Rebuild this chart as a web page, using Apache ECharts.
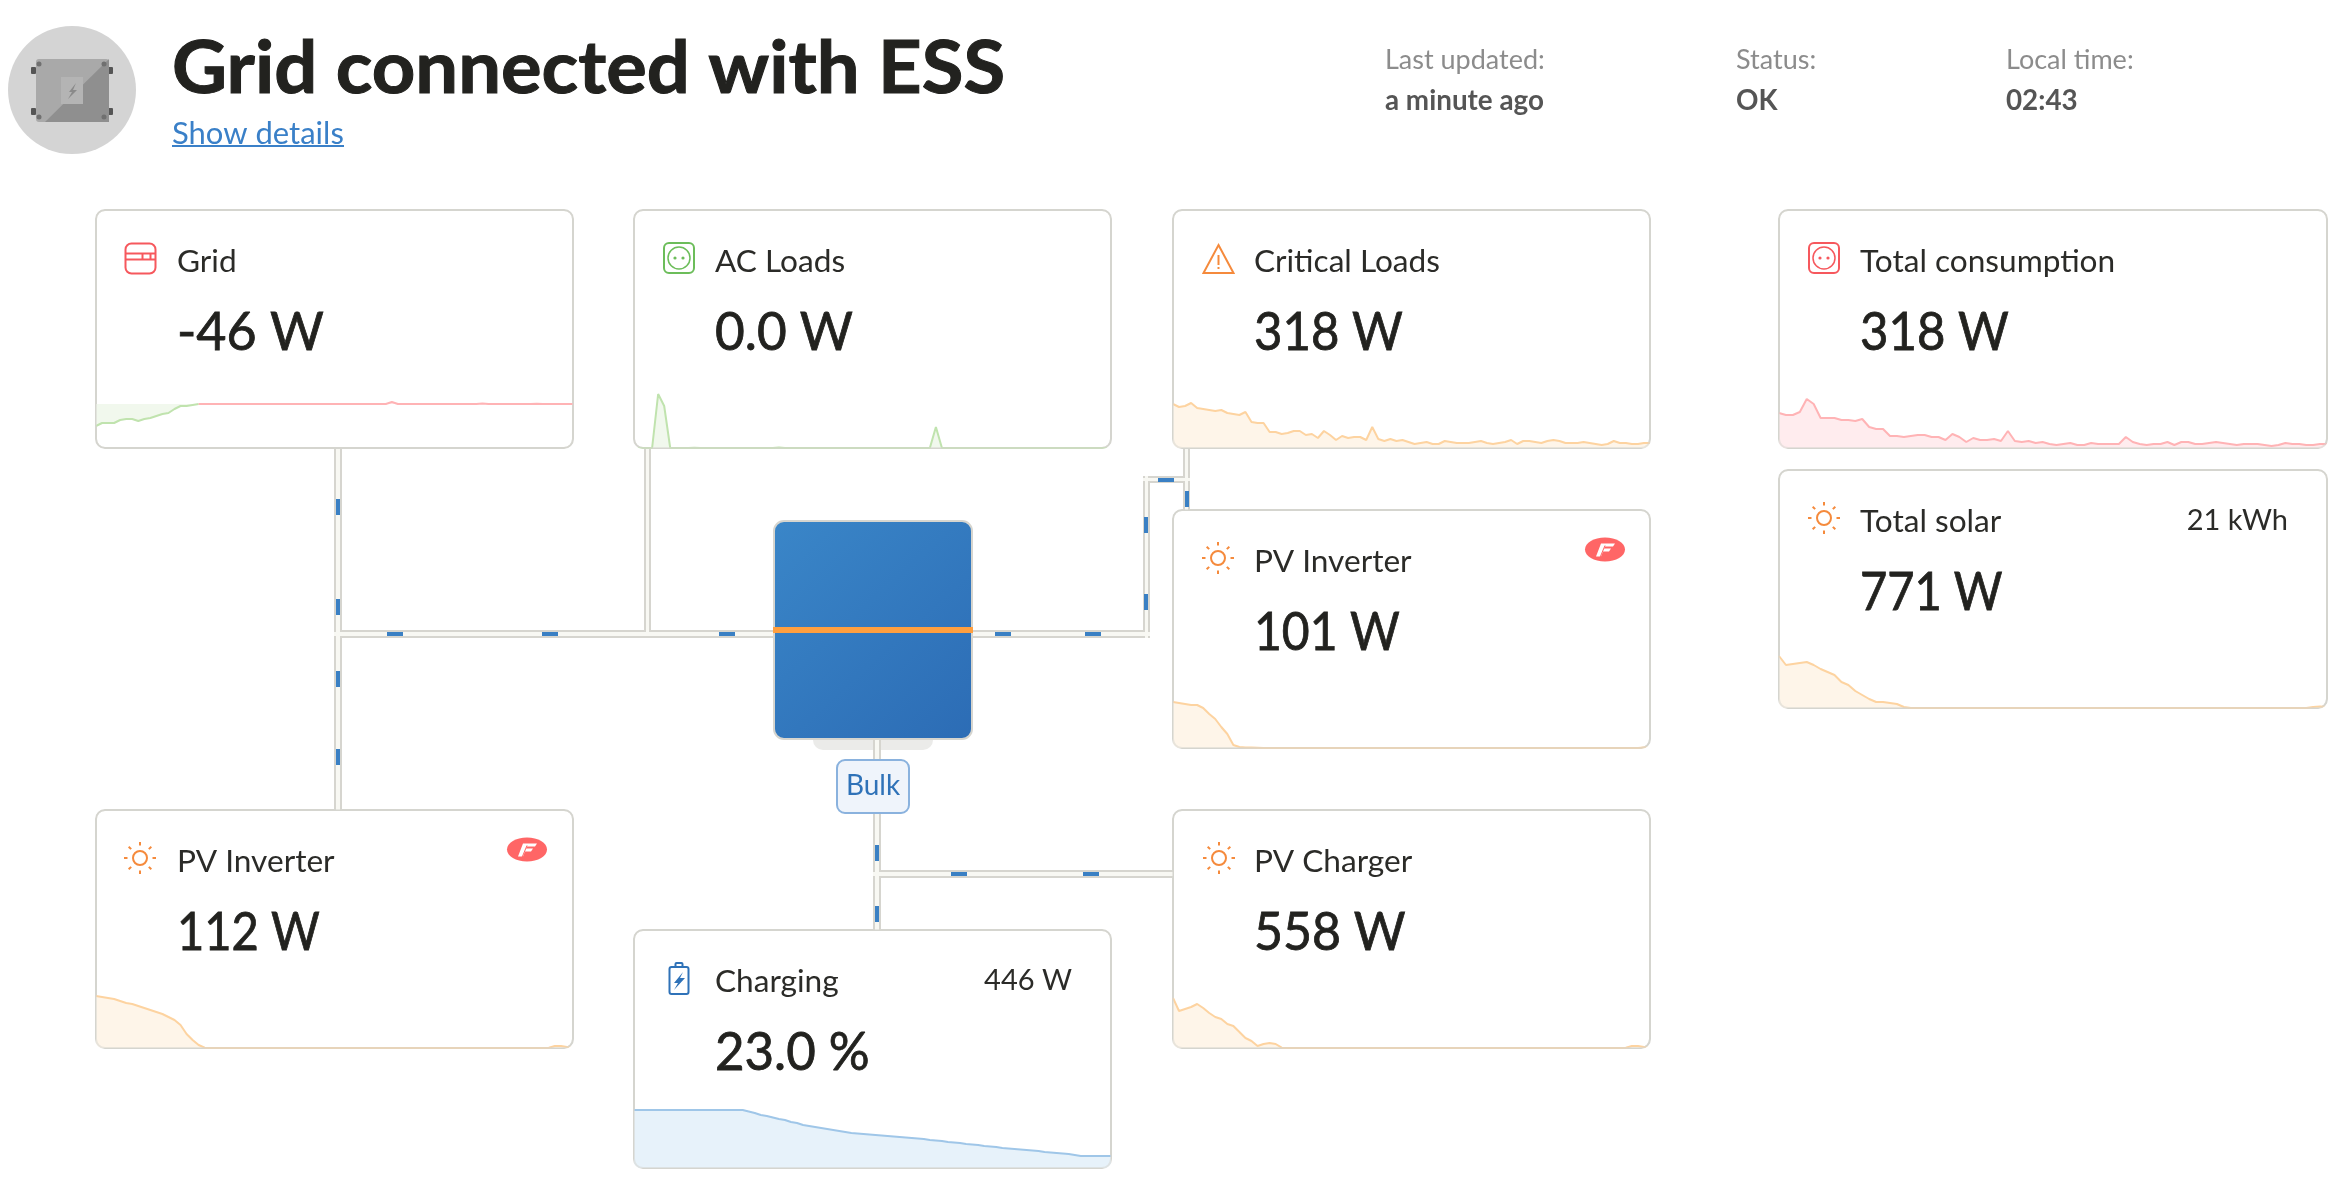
<!DOCTYPE html>
<html>
<head>
<meta charset="utf-8">
<title>Grid connected with ESS</title>
<script src="https://cdn.jsdelivr.net/npm/echarts@6/dist/echarts.min.js"></script>
<style>
  html, body { margin: 0; padding: 0; background: #fff; }
  #main { width: 2340px; height: 1196px; }
</style>
</head>
<body>
<div id="main"></div>
<script>
// card texts
const cardNames = ['Grid', 'AC Loads', 'Critical Loads', 'Total consumption', 'Total solar', 'PV Inverter', 'PV Inverter', 'Charging', 'PV Charger']
const cardValues = ['-46 W', '0.0 W', '318 W', '318 W', '771 W', '101 W', '112 W', '23.0 %', '558 W']
const cardExtras = ['', '', '', '', '21 kWh', '', '', '446 W', '']
// reference font has narrow ones, squeeze those strings a bit
const valueSqueeze = [1, 0.987, 0.943, 0.943, 0.904, 0.924, 0.905, 0.98, 0.962]

// sparkline history (80 samples each)
const gridBelow = [-22, -19, -19, -19, -16, -15, -15, -17, -15, -14, -12, -10, -9, -5, -2, -2, -1, 0]
const gridLevel = [0, 0, 0, 0, 0, 0, 0, 0, 0, 0, 0, 0, 0, 0, 0, 0, 0, 0, 0, 0, 0, 0, 0, 0, 0, 0, 0, 0, 0, 0, 0, 0, 2, 0, 0, 0, 0, 0, 0, 0, 0, 0, 0, 0, 0, 0, 0, 0.5, 0, 0, 0, 0, 0, 0, 0, 0, 0.3, 0, 0, 0, 0, 0, 0]
const acLoads = [0, 0, 0, 0, 54, 42, 0, 0, 0, 0, 0.3, 0, 0, 0, 0, 0, 0, 0, 0, 0, 0, 0, 0, 0, 0.5, 0, 0, 0, 0, 0, 0, 0, 0, 0, 0, 0, 0, 0, 0, 0, 0, 0, 0, 0, 0, 0, 0, 0, 0, 0, 21, 0, 0, 0, 0, 0, 0, 0, 0, 0, 0, 0, 0, 0, 0, 0, 0, 0, 0, 0, 0, 0, 0, 0, 0, 0, 0, 0, 0, 0]
const criticalLoads = [44, 41, 42, 45, 40, 39, 38, 37, 38, 35, 34, 33, 36, 26, 25, 25, 16, 16, 14, 15, 17, 17, 13, 14, 10, 17, 13, 8, 12, 10, 11, 11, 8, 21, 9, 7, 9, 7, 8, 6, 4, 5, 6, 4, 4, 7, 6, 5, 5, 5, 6, 7, 5, 4, 5, 6, 8, 4, 7, 7, 6, 5, 7, 8, 7, 5, 5, 5, 6, 5, 4, 3, 4, 7, 5, 5, 4, 4, 5, 5]
const totalConsumption = [35, 33, 33, 36, 49, 44, 30, 30, 30, 28, 28, 27, 29, 21, 19, 19, 12, 12, 11, 12, 13, 13, 11, 11, 8, 14, 11, 6, 10, 8, 8, 9, 7, 17, 7, 6, 7, 5, 6, 4, 3, 4, 5, 3, 3, 5, 4, 4, 4, 4, 11, 6, 4, 3, 4, 4, 6, 3, 6, 6, 4, 4, 5, 6, 5, 4, 3, 4, 4, 4, 3, 2, 3, 5, 4, 4, 3, 3, 4, 4]
const totalSolar = [52, 43, 44, 45, 46, 43, 39, 36, 33, 26, 23, 17, 13, 9, 6, 6, 5, 4, 1, 0, 0, 0, 0, 0, 0, 0, 0, 0, 0, 0, 0, 0, 0, 0, 0, 0, 0, 0, 0, 0, 0, 0, 0, 0, 0, 0, 0, 0, 0, 0, 0, 0, 0, 0, 0, 0, 0, 0, 0, 0, 0, 0, 0, 0, 0, 0, 0, 0, 0, 0, 0, 0, 0, 0, 0, 0, 0, 1, 1.5, 1]
const pvInverterRight = [46, 45, 44, 43, 43, 40, 34, 29, 21, 14, 3, 1, 0.6, 0.5, 0.3, 0, 0, 0, 0, 0, 0, 0, 0, 0, 0, 0, 0, 0, 0, 0, 0, 0, 0, 0, 0, 0, 0, 0, 0, 0, 0, 0, 0, 0, 0, 0, 0, 0, 0, 0, 0, 0, 0, 0, 0, 0, 0, 0, 0, 0, 0, 0, 0, 0, 0, 0, 0, 0, 0, 0, 0, 0, 0, 0, 0, 0, 0, 0, 0.5, 0.5]
const pvInverterLeft = [52, 51, 50, 49, 47, 45, 44, 42, 40, 38, 36, 34, 31, 28, 23, 14, 8, 3, 0.3, 0, 0, 0, 0, 0, 0, 0, 0, 0, 0, 0, 0, 0, 0, 0, 0, 0, 0, 0, 0, 0, 0, 0, 0, 0, 0, 0, 0, 0, 0, 0, 0, 0, 0, 0, 0, 0, 0, 0, 0, 0, 0, 0, 0, 0, 0, 0, 0, 0, 0, 0, 0, 0, 0, 0, 0, 0.3, 2, 2, 1, 0.5]
const charging = [58, 58, 58, 58, 58, 58, 58, 58, 58, 58, 58, 58, 58, 58, 58, 58, 58, 58, 58, 56.5, 55, 53, 52, 50.5, 49, 48, 46, 45, 43, 42, 41, 40, 39, 38, 37, 36, 35, 34.5, 34, 33.5, 33, 32.5, 32, 31.5, 31, 30.5, 30, 29.5, 29, 28, 27.5, 27, 26, 25.5, 25, 24, 23.5, 23, 22, 21.5, 21, 20, 19.5, 19, 18.5, 18, 17.5, 17, 16, 15.5, 15, 14.5, 14, 13, 12, 12, 12, 12, 12, 12]
const pvCharger = [50, 37, 39, 41, 44, 40, 35, 31, 29, 24, 22, 16, 10, 7, 2, 4, 5, 4, 0.3, 0, 0, 0, 0, 0, 0, 0, 0, 0, 0, 0, 0, 0, 0, 0, 0, 0, 0, 0, 0, 0, 0, 0, 0, 0, 0, 0, 0, 0, 0, 0, 0, 0, 0, 0, 0, 0, 0, 0, 0, 0, 0, 0, 0, 0, 0, 0, 0, 0, 0, 0, 0, 0, 0, 0, 0, 0.3, 2, 2, 1, 0.5]

// layout of the cards, same order as cardNames: left, top
const cardBoxes = [[96, 210], [634, 210], [1173, 210], [1779, 210], [1779, 470], [1173, 510], [96, 810], [634, 930], [1173, 810]]
const cardWidths = [477, 477, 477, 548, 548, 477, 477, 477, 477]
const cardH = 238

const ORANGE = { line: '#fdd3a0', area: '#fef5e9' }
const RED = { line: '#ffb3b5', area: '#ffecee' }
const GREEN = { line: '#c0e3ae', area: '#f1f8ed' }
const BLUE = { line: '#9fc6e8', area: '#e7f2fa' }

const FONT = 'Lato, "Open Sans", sans-serif'
const BORDER = '#d6d5cf'
const WIRE = '#f8f8f3'
const FLOW = '#3a80c4'

const graphicEls = []
function add(type, z, shape, style, extra) {
  graphicEls.push(Object.assign({ type, z, shape, style, silent: true }, extra || {}))
}
function text(str, x, y, font, fill, align, squeeze, weight) {
  graphicEls.push({
    type: 'text', z: 8, silent: true, x, y, scaleX: squeeze || 1,
    style: {
      text: str, x: 0, y: 0, font: font + ' ' + FONT, fill,
      stroke: weight ? fill : null, lineWidth: weight || 0,
      textAlign: align || 'left', textVerticalAlign: 'middle'
    }
  })
}

// wires: drawn as a border layer then a pale inner layer
const wires = [
  [334, 449, 8, 361], [334, 630, 439, 8], [644, 449, 7, 185],
  [973, 630, 177, 8], [1143, 476, 7, 162], [1143, 476, 47, 7], [1183, 449, 7, 61],
  [873, 739, 8, 191], [873, 870, 300, 8]
]
const flowDashes = [
  [336, 499, 4, 16], [336, 599, 4, 16], [336, 671, 4, 16], [336, 749, 4, 16],
  [387, 632, 16, 4], [542, 632, 16, 4], [719, 632, 16, 4], [995, 632, 16, 4], [1085, 632, 16, 4],
  [1144, 517, 4, 16], [1144, 594, 4, 16], [1158, 478, 16, 4], [1185, 491, 4, 16],
  [875, 845, 4, 16], [875, 906, 4, 16], [951, 872, 16, 4], [1083, 872, 16, 4]
]

// frames go under the sparklines, white corner mask over them
cardBoxes.forEach((b, i) => {
  add('rect', 1, { x: b[0], y: b[1], width: cardWidths[i], height: cardH, r: 9 }, { fill: '#fff', stroke: BORDER, lineWidth: 2 })
  add('rect', 3, { x: b[0] - 6, y: b[1] - 6, width: cardWidths[i] + 12, height: cardH + 12, r: 15 }, { fill: 'none', stroke: '#fff', lineWidth: 10 })
})

add('rect', 4, { x: 813, y: 739, width: 120, height: 11, r: [0, 0, 10, 10] }, { fill: '#ebebe9' })
wires.forEach(w => add('rect', 4, { x: w[0], y: w[1], width: w[2], height: w[3] }, { fill: BORDER }))
wires.forEach(w => {
  const vertical = w[3] > w[2]
  add('rect', 4, {
    x: vertical ? w[0] + 2 : w[0], y: vertical ? w[1] : w[1] + 2,
    width: vertical ? w[2] - 4 : w[2], height: vertical ? w[3] : w[3] - 4
  }, { fill: WIRE })
})
flowDashes.forEach(d => add('rect', 5, { x: d[0], y: d[1], width: d[2], height: d[3] }, { fill: FLOW }))
// frames touched by wires get their edge back
cardBoxes.forEach((b, i) => {
  add('rect', 5, { x: b[0], y: b[1], width: cardWidths[i], height: cardH, r: 9 }, { fill: 'none', stroke: BORDER, lineWidth: 2, opacity: 0.55 })
})

// inverter block
add('rect', 6, { x: 774, y: 521, width: 198, height: 218, r: 10 }, {
  stroke: BORDER, lineWidth: 2,
  fill: { type: 'linear', x: 0, y: 0, x2: 1, y2: 1, colorStops: [{ offset: 0, color: '#3a86c8' }, { offset: 1, color: '#2c6cb5' }] }
})
add('rect', 7, { x: 773, y: 627, width: 200, height: 6 }, { fill: '#ff9f3f' })
add('rect', 7, { x: 837, y: 760, width: 72, height: 53, r: 8 }, { fill: '#eff4fb', stroke: '#8ab2de', lineWidth: 2 })
text('Bulk', 873, 786, '400 28px', '#2f72b8', 'center')

// header: device picture
add('circle', 6, { cx: 72, cy: 90, r: 64 }, { fill: '#d4d4d4' })
;[[31, 67], [31, 108], [108, 67], [108, 108]].forEach(p => {
  add('rect', 7, { x: p[0], y: p[1], width: 5, height: 7, r: 1 }, { fill: '#555' })
})
add('rect', 7, { x: 36, y: 59, width: 73, height: 63, r: 3 }, { fill: '#a9a9a9' })
add('polygon', 7, { points: [[45, 122], [109, 59], [109, 122]] }, { fill: '#8f8f8f' })
add('rect', 8, { x: 61, y: 77, width: 22, height: 27 }, { fill: '#b4b4b4' })
add('polygon', 8, { points: [[76, 83], [69, 92], [72, 92], [68, 99], [77, 90], [73, 90]] }, { fill: '#8a8a8a' })
;[[39, 64], [104, 64], [39, 117], [104, 117]].forEach(p => {
  add('circle', 8, { cx: p[0], cy: p[1], r: 2.5 }, { fill: '#707070' })
})
text('Grid connected with ESS', 172, 70, '700 72px', '#22221f', 'left', 1.055, 1)
text('Show details', 172, 134, '400 31px', '#3a80c8')
add('rect', 8, { x: 172, y: 145, width: 172, height: 2 }, { fill: '#3a80c8' })

text('Last updated:', 1385, 60, '400 27px', '#8c8c8c')
text('a minute ago', 1385, 101, '700 27.8px', '#555')
text('Status:', 1736, 60, '400 27px', '#8c8c8c')
text('OK', 1736, 101, '700 27.8px', '#555')
text('Local time:', 2006, 60, '400 27px', '#8c8c8c')
text('02:43', 2006, 101, '700 27.8px', '#555')

// icons
function socketIcon(cx, cy, color) {
  add('rect', 8, { x: cx - 15, y: cy - 15, width: 30, height: 30, r: 5 }, { fill: 'none', stroke: color, lineWidth: 2 })
  add('circle', 8, { cx, cy, r: 11 }, { fill: 'none', stroke: color, lineWidth: 1.5 })
  add('circle', 8, { cx: cx - 4, cy, r: 1.6 }, { fill: color })
  add('circle', 8, { cx: cx + 4, cy, r: 1.6 }, { fill: color })
}
function gridIcon(cx, cy, color) {
  add('rect', 8, { x: cx - 15, y: cy - 15, width: 30, height: 30, r: 6 }, { fill: 'none', stroke: color, lineWidth: 2 })
  add('rect', 8, { x: cx - 15, y: cy - 6, width: 30, height: 2 }, { fill: color })
  add('rect', 8, { x: cx - 15, y: cy, width: 30, height: 2 }, { fill: color })
  add('rect', 8, { x: cx + 1, y: cy - 5, width: 2, height: 6 }, { fill: color })
  add('rect', 8, { x: cx + 9, y: cy - 5, width: 2, height: 6 }, { fill: color })
}
function warnIcon(cx, cy, color) {
  add('polygon', 8, { points: [[cx, cy - 14], [cx + 15, cy + 14], [cx - 15, cy + 14]] }, { fill: 'none', stroke: color, lineWidth: 2 })
  add('rect', 8, { x: cx - 1, y: cy - 4, width: 2, height: 10 }, { fill: color })
  add('rect', 8, { x: cx - 1, y: cy + 8, width: 2, height: 2 }, { fill: color })
}
function sunIcon(cx, cy, color) {
  add('circle', 8, { cx, cy, r: 7 }, { fill: 'none', stroke: color, lineWidth: 2 })
  for (let a = 0; a < 8; a++) {
    const c = Math.cos(a * Math.PI / 4), s = Math.sin(a * Math.PI / 4)
    add('line', 8, { x1: cx + c * 12.5, y1: cy + s * 12.5, x2: cx + c * 16, y2: cy + s * 16 }, { stroke: color, lineWidth: 2 })
  }
}
function batteryIcon(cx, cy, color) {
  add('rect', 8, { x: cx - 9.5, y: cy - 13, width: 19, height: 27, r: 2 }, { fill: 'none', stroke: color, lineWidth: 2 })
  add('rect', 8, { x: cx - 3.5, y: cy - 17, width: 7, height: 4, r: 1 }, { fill: 'none', stroke: color, lineWidth: 2 })
  add('polygon', 8, { points: [[cx + 4, cy - 8], [cx - 5, cy + 3], [cx - 1, cy + 3], [cx - 5, cy + 10], [cx + 6, cy - 2], [cx + 1, cy - 2]] }, { fill: color })
}
function froniusBadge(cx, cy) {
  add('ellipse', 8, { cx, cy, rx: 20, ry: 12 }, { fill: '#ff6666' })
  add('polygon', 9, { points: [[cx - 4, cy - 6], [cx + 10, cy - 6], [cx + 8, cy - 3], [cx, cy - 3], [cx - 1, cy - 1], [cx + 6, cy - 1], [cx + 4, cy + 2], [cx - 2, cy + 2], [cx - 4, cy + 7], [cx - 9, cy + 7]] }, { fill: '#fff' })
  add('line', 9, { x1: cx - 5, y1: cy + 8, x2: cx, y2: cy - 4 }, { stroke: '#ff6666', lineWidth: 1 })
}
const RED_ICON = '#f6585d', GREEN_ICON = '#6cbd5a', ORANGE_ICON = '#f58a3c', BLUE_ICON = '#2f72b8'
gridIcon(140.5, 258.5, RED_ICON)
socketIcon(679, 258, GREEN_ICON)
warnIcon(1218.5, 259, ORANGE_ICON)
socketIcon(1824, 258, RED_ICON)
sunIcon(1824, 518, ORANGE_ICON)
sunIcon(1218, 558, ORANGE_ICON)
sunIcon(140, 858, ORANGE_ICON)
batteryIcon(679, 980, BLUE_ICON)
sunIcon(1219, 858, ORANGE_ICON)
froniusBadge(1605, 549.5)
froniusBadge(527, 849.5)

// card texts
cardBoxes.forEach((b, i) => {
  text(cardNames[i], b[0] + 81, b[1] + 52, '400 31.6px', '#2b2b28')
  text(cardValues[i], b[0] + 81, b[1] + 123, '400 52px', '#22221f', 'left', valueSqueeze[i], 0.8)
  if (cardExtras[i]) text(cardExtras[i], b[0] + cardWidths[i] - 39, b[1] + 51, '400 29px', '#2b2b28', 'right')
})

// sparkline per card
const grids = [], xAxes = [], yAxes = [], series = []
function addSpark(boxIdx, min, max, lines) {
  const b = cardBoxes[boxIdx]
  const g = grids.length
  grids.push({ left: b[0], top: b[1] + cardH - 80, width: cardWidths[boxIdx], height: 80 })
  xAxes.push({ type: 'value', gridIndex: g, show: false, min: 0, max: 79 })
  yAxes.push({ type: 'value', gridIndex: g, show: false, min, max })
  lines.forEach(l => {
    series.push({
      type: 'line', xAxisIndex: g, yAxisIndex: g, symbol: 'none', clip: false, z: 2,
      data: l.values.map((v, i) => [i + (l.start || 0), v]),
      lineStyle: { color: l.color.line, width: 2 },
      itemStyle: { color: l.color.line },
      areaStyle: { color: l.color.area, opacity: 1, origin: 'auto' }
    })
  })
}
addSpark(0, -44, 36, [{ values: gridBelow, color: GREEN }, { values: gridLevel, start: 17, color: RED }])
addSpark(1, 0, 80, [{ values: acLoads, color: GREEN }])
addSpark(2, 0, 80, [{ values: criticalLoads, color: ORANGE }])
addSpark(3, 0, 80, [{ values: totalConsumption, color: RED }])
addSpark(4, 0, 80, [{ values: totalSolar, color: ORANGE }])
addSpark(5, 0, 80, [{ values: pvInverterRight, color: ORANGE }])
addSpark(6, 0, 80, [{ values: pvInverterLeft, color: ORANGE }])
addSpark(7, 0, 80, [{ values: charging, color: BLUE }])
addSpark(8, 0, 80, [{ values: pvCharger, color: ORANGE }])

const chart = echarts.init(document.getElementById('main'), null, { renderer: 'canvas' })
chart.setOption({
  backgroundColor: '#fff',
  animation: false,
  grid: grids,
  xAxis: xAxes,
  yAxis: yAxes,
  series: series,
  graphic: { elements: graphicEls }
})
</script>
</body>
</html>
